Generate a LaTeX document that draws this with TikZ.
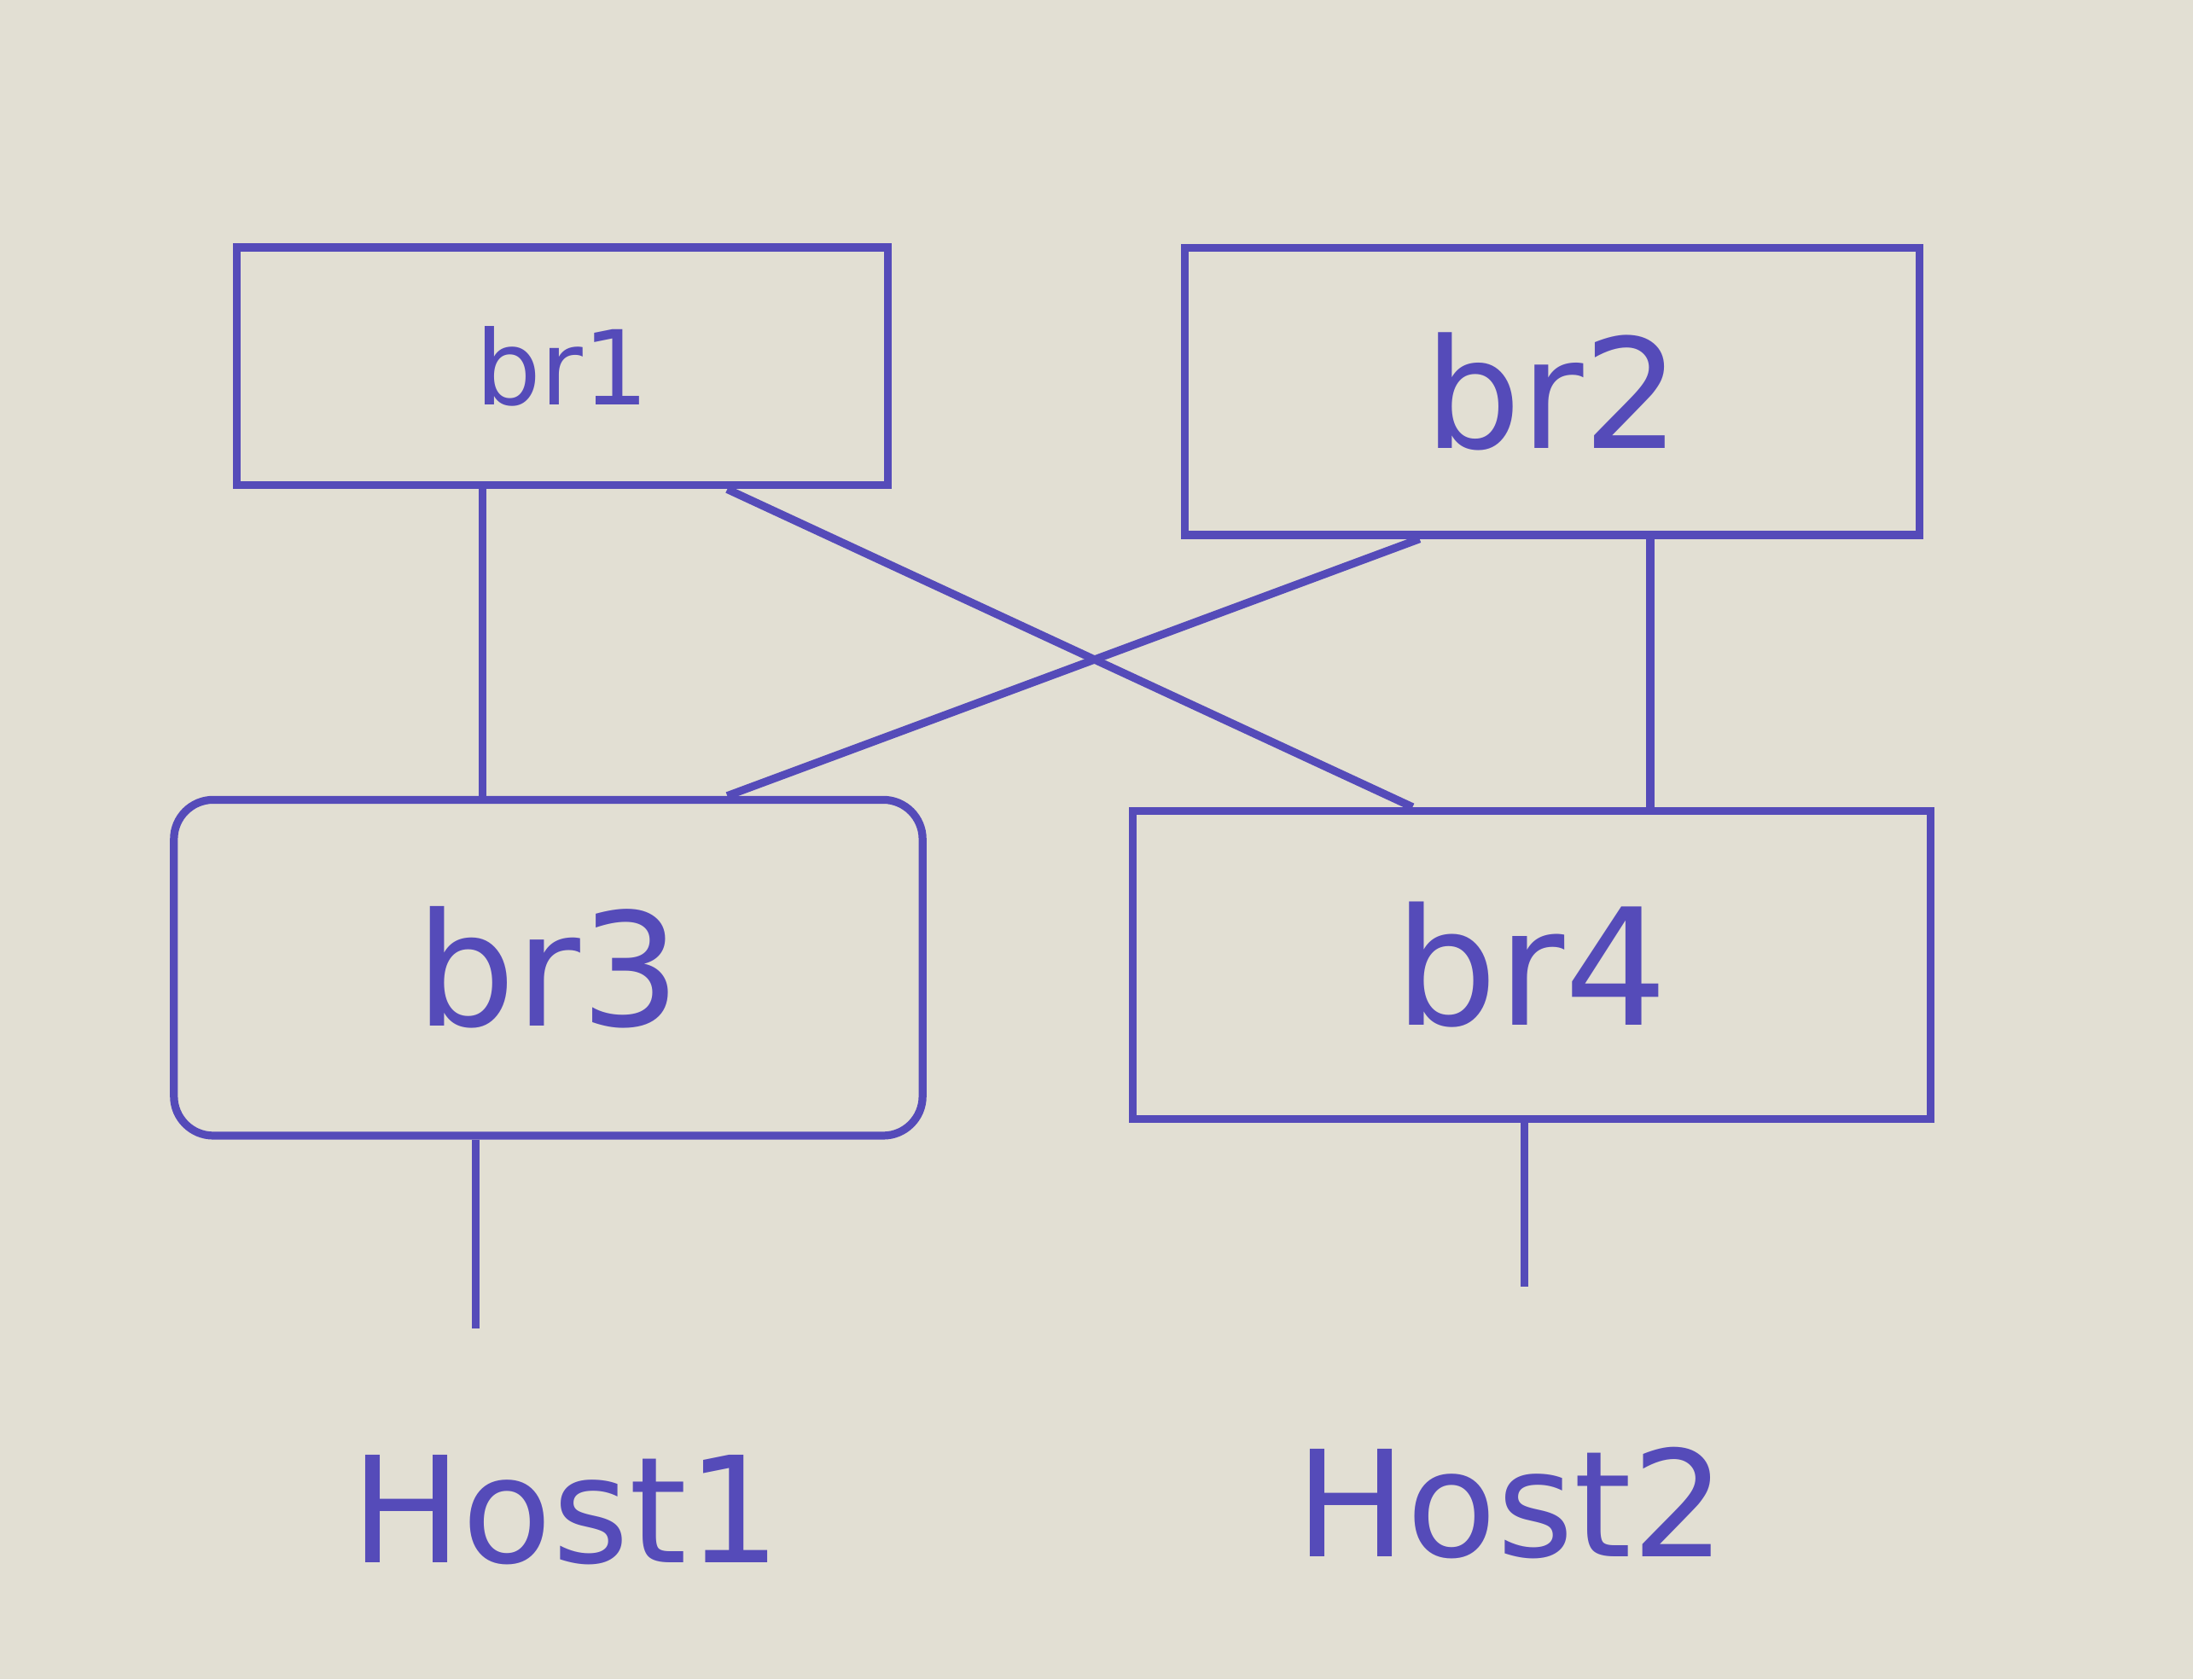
\documentclass[tikz,border=0pt]{standalone}
\usepackage{fontspec}
\setmainfont{DejaVu Sans}
\definecolor{ink}{RGB}{85,75,185}
\definecolor{paper}{RGB}{226,223,211}
\begin{document}
\begin{tikzpicture}[x=0.01cm,y=-0.01cm,
  box/.style={draw=ink,line width=1.6pt,text=ink,inner sep=0pt},
  wire/.style={draw=ink,line width=1.6pt},
  lbl/.style={text=ink,inner sep=0pt}]
\fill[paper] (0,0) rectangle (1568,1201);
\useasboundingbox (0,0) rectangle (1568,1201);
\node[box,minimum width=4.65cm,minimum height=1.7cm,font=\fontsize{21}{25}\selectfont] (br1) at (402,262) {br1};
\node[box,minimum width=5.25cm,minimum height=2.05cm,font=\fontsize{31}{35}\selectfont] (br2) at (1110,280) {br2};
\node[box,rounded corners=8pt,minimum width=5.35cm,minimum height=2.4cm,font=\fontsize{32}{38}\selectfont] (br3) at (392,692) {br3};
\node[box,minimum width=5.7cm,minimum height=2.2cm,font=\fontsize{33}{38}\selectfont] (br4) at (1095,690) {br4};
\node[lbl,font=\fontsize{30}{36}\selectfont] (h1) at (405,1080) {Host1};
\node[lbl,font=\fontsize{30}{36}\selectfont] (h2) at (1080,1075) {Host2};
\draw[wire] (br1.south -| 345,0) -- (br3.north -| 345,0);
\draw[wire] (br1.south -| 520,0) -- (br4.north -| 1010,0);
\draw[wire] (br2.south -| 1015,0) -- (br3.north -| 520,0);
\draw[wire] (br2.south -| 1180,0) -- (br4.north -| 1180,0);
\draw[wire] (br3.south -| 340,0) -- (340,950);
\draw[wire] (br4.south -| 1090,0) -- (1090,920);
\end{tikzpicture}
\end{document}
